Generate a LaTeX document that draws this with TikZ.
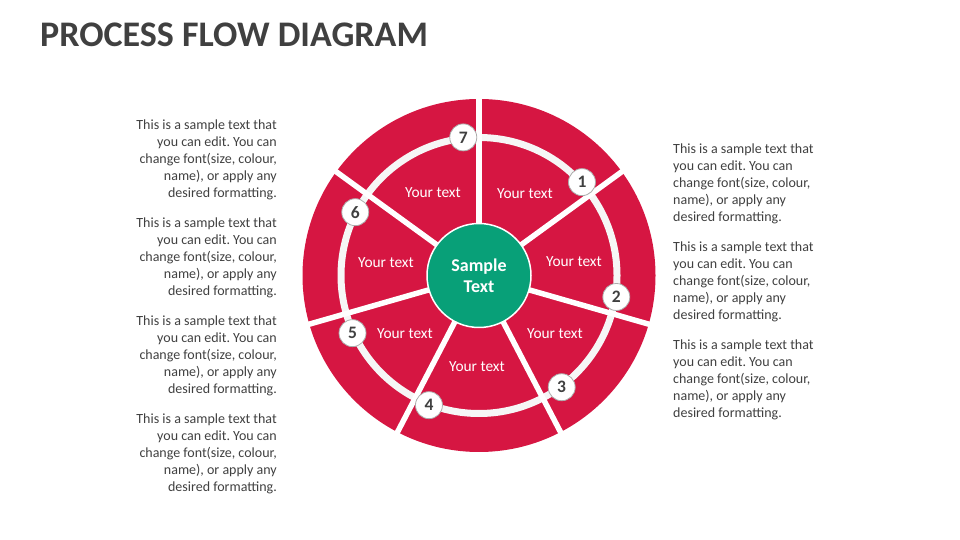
\documentclass[tikz,border=0pt]{standalone}
\usepackage{fontspec}
\setmainfont{Carlito}
\frenchspacing
\definecolor{redc}{RGB}{214,22,66}
\definecolor{greenc}{RGB}{8,160,120}
\definecolor{ringc}{RGB}{246,246,246}
\definecolor{txt}{RGB}{64,64,64}
\tikzset{
  numc/.style={circle, fill=white, draw=gray!65, line width=0.8pt, minimum size=27pt, inner sep=0pt,
    font=\fontsize{17.5}{19}\selectfont\bfseries, text=txt},
  yourtxt/.style={inner sep=0pt, text=white, font=\fontsize{15.4}{18}\selectfont},
  sidetxt/.style={inner sep=0pt, text=txt, font=\fontsize{14}{17}\selectfont},
  divider/.style={white, line width=5.5pt},
}
\begin{document}
\begin{tikzpicture}[x=1pt,y=1pt]
\useasboundingbox (0,0) rectangle (960,540);
\node[anchor=base west, inner sep=0pt, text=txt, font=\fontsize{36}{40}\selectfont\bfseries] (title) at (40,493.3) {PROCESS FLOW DIAGRAM};
\coordinate (C) at (479,264.5);
\fill[redc] (C) circle (176.5);
\draw[ringc, line width=7pt] (C) circle (138);
\foreach \a in {90,36,-16,-62.5,-117.5,-164,144}
  \draw[divider] (C) -- ++(\a:185);
\node[circle, fill=greenc, draw=white, line width=1.5pt, minimum size=104pt, inner sep=0pt,
  text=white, align=center, font=\fontsize{18}{21}\selectfont\bfseries] (center) at (C) {Sample\\Text};
\node[numc] (n1) at ([shift={(42.2:139)}]C) {1};
\node[numc] (n2) at ([shift={(-8.9:139)}]C) {2};
\node[numc] (n3) at ([shift={(-53.5:139)}]C) {3};
\node[numc] (n4) at ([shift={(-111.1:139)}]C) {4};
\node[numc] (n5) at ([shift={(-155.5:139)}]C) {5};
\node[numc] (n6) at ([shift={(152.9:139)}]C) {6};
\node[numc] (n7) at ([shift={(96.5:139)}]C) {7};
\node[yourtxt] (t1) at (525,346) {Your text};
\node[yourtxt] (t7) at (433,347) {Your text};
\node[yourtxt] (t2) at (574,278) {Your text};
\node[yourtxt] (t6) at (386,277) {Your text};
\node[yourtxt] (t3) at (555,206) {Your text};
\node[yourtxt] (t5) at (405,206) {Your text};
\node[yourtxt] (t4) at (477,173) {Your text};
\node[sidetxt, anchor=east, align=right] (l1) at (277,380.5) {This is a sample text that\\you can edit. You can\\change font(size, colour,\\name), or apply any\\desired formatting.};
\node[sidetxt, anchor=east, align=right] (l2) at (277,282.5) {This is a sample text that\\you can edit. You can\\change font(size, colour,\\name), or apply any\\desired formatting.};
\node[sidetxt, anchor=east, align=right] (l3) at (277,184.5) {This is a sample text that\\you can edit. You can\\change font(size, colour,\\name), or apply any\\desired formatting.};
\node[sidetxt, anchor=east, align=right] (l4) at (277,86.5) {This is a sample text that\\you can edit. You can\\change font(size, colour,\\name), or apply any\\desired formatting.};
\node[sidetxt, anchor=west, align=left] (r1) at (673,356.5) {This is a sample text that\\you can edit. You can\\change font(size, colour,\\name), or apply any\\desired formatting.};
\node[sidetxt, anchor=west, align=left] (r2) at (673,258.5) {This is a sample text that\\you can edit. You can\\change font(size, colour,\\name), or apply any\\desired formatting.};
\node[sidetxt, anchor=west, align=left] (r3) at (673,160.5) {This is a sample text that\\you can edit. You can\\change font(size, colour,\\name), or apply any\\desired formatting.};
\end{tikzpicture}
\end{document}
